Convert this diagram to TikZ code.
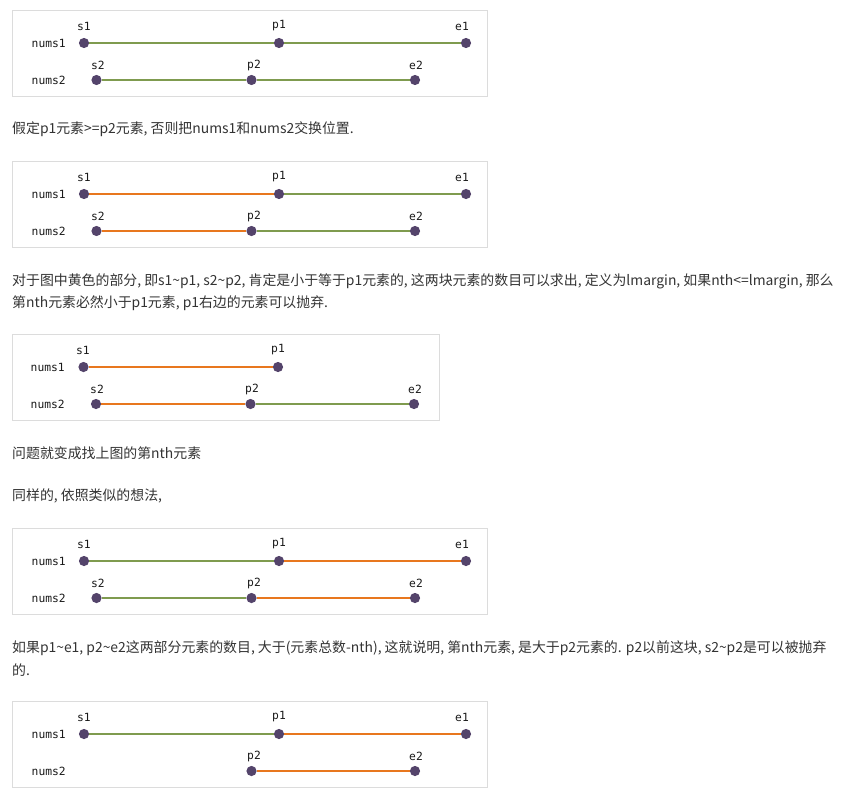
\documentclass[tikz,border=0pt]{standalone}
\usepackage{fontspec}
\setmainfont{Liberation Sans}
\newfontfamily\cjk{Noto Sans CJK SC}
\newfontfamily\monof{DejaVu Sans Mono}
\definecolor{lgreen}{HTML}{7F9B4F}
\definecolor{lorange}{HTML}{E8771E}
\definecolor{ldot}{HTML}{54446B}
\definecolor{lbox}{HTML}{DCDCDC}
\definecolor{ltext}{HTML}{333333}
\tikzset{
  dotst/.style={circle,fill=ldot,minimum size=10.2pt,inner sep=0pt,outer sep=0pt},
  lbl/.style={font=\monof\fontsize{11.3}{13}\selectfont,text=black!90,inner sep=0pt},
  arrname/.style={font=\monof\fontsize{11.3}{13}\selectfont,text=black!90,inner sep=0pt,anchor=west},
  gline/.style={draw=lgreen,line width=2.9pt},
  oline/.style={draw=lorange,line width=2.9pt},
  boxst/.style={draw=lbox,line width=1pt},
  para/.style={font=\cjk\fontsize{13.9}{16}\selectfont,text=ltext,anchor=west,inner sep=0pt}
}
\begin{document}
\begin{tikzpicture}[x=1pt,y=-1pt]
\useasboundingbox (0,0) rectangle (855,798);
% ---------- box 1 ----------
\draw[boxst] (12.5,10.5) rectangle (487.5,96.5);
\node[arrname] (a-n1) at (31.5,43) {nums1};
\node[arrname] (a-n2) at (31.5,80) {nums2};
\node[dotst] (a-s1) at (84,43) {};
\node[dotst] (a-p1) at (279,43) {};
\node[dotst] (a-e1) at (466,43) {};
\node[dotst] (a-s2) at (96.5,80) {};
\node[dotst] (a-p2) at (251.5,80) {};
\node[dotst] (a-e2) at (415,80) {};
\node[lbl] (a-s1l) at (84,26) {s1};
\node[lbl] (a-p1l) at (279,26) {p1};
\node[lbl] (a-e1l) at (462,26) {e1};
\node[lbl] (a-s2l) at (98,65) {s2};
\node[lbl] (a-p2l) at (254,65) {p2};
\node[lbl] (a-e2l) at (416,65) {e2};
\draw[gline] (a-s1) -- (a-p1);
\draw[gline] (a-p1) -- (a-e1);
\draw[gline] (a-s2) -- (a-p2);
\draw[gline] (a-p2) -- (a-e2);
\node[para] (t1) at (12,129) {假定p1元素>=p2元素, 否则把nums1和nums2交换位置.};
% ---------- box 2 ----------
\draw[boxst] (12.5,161.5) rectangle (487.5,247.5);
\node[arrname] (b-n1) at (31.5,194) {nums1};
\node[arrname] (b-n2) at (31.5,231) {nums2};
\node[dotst] (b-s1) at (84,194) {};
\node[dotst] (b-p1) at (279,194) {};
\node[dotst] (b-e1) at (466,194) {};
\node[dotst] (b-s2) at (96.5,231) {};
\node[dotst] (b-p2) at (251.5,231) {};
\node[dotst] (b-e2) at (415,231) {};
\node[lbl] (b-s1l) at (84,177) {s1};
\node[lbl] (b-p1l) at (279,177) {p1};
\node[lbl] (b-e1l) at (462,177) {e1};
\node[lbl] (b-s2l) at (98,216) {s2};
\node[lbl] (b-p2l) at (254,216) {p2};
\node[lbl] (b-e2l) at (416,216) {e2};
\draw[oline] (b-s1) -- (b-p1);
\draw[gline] (b-p1) -- (b-e1);
\draw[oline] (b-s2) -- (b-p2);
\draw[gline] (b-p2) -- (b-e2);
\node[para] (t2a) at (12,281) {对于图中黄色的部分, 即s1\textasciitilde p1, s2\textasciitilde p2, 肯定是小于等于p1元素的, 这两块元素的数目可以求出, 定义为lmargin, 如果nth<=lmargin, 那么};
\node[para] (t2b) at (12,303) {第nth元素必然小于p1元素, p1右边的元素可以抛弃.};
% ---------- box 3 ----------
\draw[boxst] (12.5,334.5) rectangle (439.5,420.5);
\node[arrname] (c-n1) at (30.5,367) {nums1};
\node[arrname] (c-n2) at (30.5,404) {nums2};
\node[dotst] (c-s1) at (83.5,367) {};
\node[dotst] (c-p1) at (278,367) {};
\node[dotst] (c-s2) at (96,404) {};
\node[dotst] (c-p2) at (250.5,404) {};
\node[dotst] (c-e2) at (414,404) {};
\node[lbl] (c-s1l) at (83,350) {s1};
\node[lbl] (c-p1l) at (278,350) {p1};
\node[lbl] (c-s2l) at (97,389) {s2};
\node[lbl] (c-p2l) at (252,389) {p2};
\node[lbl] (c-e2l) at (415,389) {e2};
\draw[oline] (c-s1) -- (c-p1);
\draw[oline] (c-s2) -- (c-p2);
\draw[gline] (c-p2) -- (c-e2);
\node[para] (t3) at (12,453) {问题就变成找上图的第nth元素};
\node[para] (t4) at (12,496) {同样的, 依照类似的想法,};
% ---------- box 4 ----------
\draw[boxst] (12.5,528.5) rectangle (487.5,614.5);
\node[arrname] (d-n1) at (31.5,561) {nums1};
\node[arrname] (d-n2) at (31.5,598) {nums2};
\node[dotst] (d-s1) at (84,561) {};
\node[dotst] (d-p1) at (279,561) {};
\node[dotst] (d-e1) at (466,561) {};
\node[dotst] (d-s2) at (96.5,598) {};
\node[dotst] (d-p2) at (251.5,598) {};
\node[dotst] (d-e2) at (415,598) {};
\node[lbl] (d-s1l) at (84,544) {s1};
\node[lbl] (d-p1l) at (279,544) {p1};
\node[lbl] (d-e1l) at (462,544) {e1};
\node[lbl] (d-s2l) at (98,583) {s2};
\node[lbl] (d-p2l) at (254,583) {p2};
\node[lbl] (d-e2l) at (416,583) {e2};
\draw[gline] (d-s1) -- (d-p1);
\draw[oline] (d-p1) -- (d-e1);
\draw[gline] (d-s2) -- (d-p2);
\draw[oline] (d-p2) -- (d-e2);
\node[para] (t5a) at (12,648) {如果p1\textasciitilde e1, p2\textasciitilde e2这两部分元素的数目, 大于(元素总数-nth), 这就说明, 第nth元素, 是大于p2元素的. p2以前这块, s2\textasciitilde p2是可以被抛弃};
\node[para] (t5b) at (12,670) {的.};
% ---------- box 5 ----------
\draw[boxst] (12.5,701.5) rectangle (487.5,787.5);
\node[arrname] (e-n1) at (31.5,734) {nums1};
\node[arrname] (e-n2) at (31.5,771) {nums2};
\node[dotst] (e-s1) at (84,734) {};
\node[dotst] (e-p1) at (279,734) {};
\node[dotst] (e-e1) at (466,734) {};
\node[dotst] (e-p2) at (251.5,771) {};
\node[dotst] (e-e2) at (415,771) {};
\node[lbl] (e-s1l) at (84,717) {s1};
\node[lbl] (e-p1l) at (279,717) {p1};
\node[lbl] (e-e1l) at (462,717) {e1};
\node[lbl] (e-p2l) at (254,756) {p2};
\node[lbl] (e-e2l) at (416,756) {e2};
\draw[gline] (e-s1) -- (e-p1);
\draw[oline] (e-p1) -- (e-e1);
\draw[oline] (e-p2) -- (e-e2);
\end{tikzpicture}
\end{document}
